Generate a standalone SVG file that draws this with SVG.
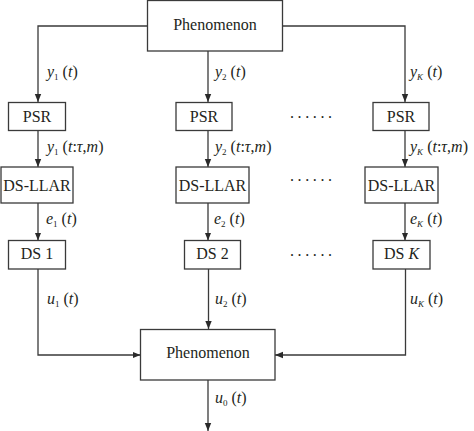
<svg xmlns="http://www.w3.org/2000/svg" width="474" height="431" viewBox="0 0 474 431">
<style>
.box{fill:#fff;stroke:#3a3a3a;stroke-width:1.3}
.bt{font-family:'Liberation Serif','DejaVu Serif',serif;font-size:16px;fill:#231f20;text-anchor:middle}
.lbl{font-family:'Liberation Serif','DejaVu Serif',serif;font-size:16px;fill:#231f20}
.i{font-style:italic}
.sub{font-size:9px}
.ln{fill:none;stroke:#3a3a3a;stroke-width:1.3}
.dots{font-family:'Liberation Serif','DejaVu Serif',serif;font-size:16px;fill:#231f20;letter-spacing:3.6px}
</style>
<defs>
<marker id="arr" markerUnits="userSpaceOnUse" markerWidth="10" markerHeight="8" refX="8" refY="4" orient="auto">
<path d="M0,0.8 L8,4 L0,7.2 Z" fill="#2a2a2a"/>
</marker>
</defs>
<rect width="474" height="431" fill="#fff"/>

<g id="connectors">
<path class="ln" d="M147.5,26 H38 V102" marker-end="url(#arr)"/>
<path class="ln" d="M208,51 V102" marker-end="url(#arr)"/>
<path class="ln" d="M282.5,26 H405 V102" marker-end="url(#arr)"/>
<path class="ln" d="M38,130.5 V167" marker-end="url(#arr)"/>
<path class="ln" d="M208,130.5 V167" marker-end="url(#arr)"/>
<path class="ln" d="M405,130.5 V167" marker-end="url(#arr)"/>
<path class="ln" d="M38,203 V240.5" marker-end="url(#arr)"/>
<path class="ln" d="M208,203 V240.5" marker-end="url(#arr)"/>
<path class="ln" d="M405,203 V240.5" marker-end="url(#arr)"/>
<path class="ln" d="M38,269 V355 H140.5" marker-end="url(#arr)"/>
<path class="ln" d="M208.5,269 V329" marker-end="url(#arr)"/>
<path class="ln" d="M405.5,269 V355 H275" marker-end="url(#arr)"/>
<path class="ln" d="M208,380 V431" marker-end="url(#arr)"/>
</g>

<g id="labels">
<text class="lbl" x="47" y="77"><tspan class="i">y</tspan><tspan class="sub" dy="3">1</tspan><tspan dy="-3"> (</tspan><tspan class="i">t</tspan>)</text>
<text class="lbl" x="215" y="77"><tspan class="i">y</tspan><tspan class="sub" dy="3">2</tspan><tspan dy="-3"> (</tspan><tspan class="i">t</tspan>)</text>
<text class="lbl" x="410" y="77"><tspan class="i">y</tspan><tspan class="sub i" dy="3">K</tspan><tspan dy="-3"> (</tspan><tspan class="i">t</tspan>)</text>

<text class="lbl" x="47" y="152"><tspan class="i">y</tspan><tspan class="sub" dy="3">1</tspan><tspan dy="-3"> (</tspan><tspan class="i">t</tspan>:<tspan class="i">τ</tspan>,<tspan class="i">m</tspan>)</text>
<text class="lbl" x="215" y="152"><tspan class="i">y</tspan><tspan class="sub" dy="3">2</tspan><tspan dy="-3"> (</tspan><tspan class="i">t</tspan>:<tspan class="i">τ</tspan>,<tspan class="i">m</tspan>)</text>
<text class="lbl" x="410" y="152"><tspan class="i">y</tspan><tspan class="sub i" dy="3">K</tspan><tspan dy="-3"> (</tspan><tspan class="i">t</tspan>:<tspan class="i">τ</tspan>,<tspan class="i">m</tspan>)</text>

<text class="lbl" x="46" y="224"><tspan class="i">e</tspan><tspan class="sub" dy="3">1</tspan><tspan dy="-3"> (</tspan><tspan class="i">t</tspan>)</text>
<text class="lbl" x="214" y="224"><tspan class="i">e</tspan><tspan class="sub" dy="3">2</tspan><tspan dy="-3"> (</tspan><tspan class="i">t</tspan>)</text>
<text class="lbl" x="410" y="224"><tspan class="i">e</tspan><tspan class="sub i" dy="3">K</tspan><tspan dy="-3"> (</tspan><tspan class="i">t</tspan>)</text>

<text class="lbl" x="47" y="304"><tspan class="i">u</tspan><tspan class="sub" dy="3">1</tspan><tspan dy="-3"> (</tspan><tspan class="i">t</tspan>)</text>
<text class="lbl" x="215" y="304"><tspan class="i">u</tspan><tspan class="sub" dy="3">2</tspan><tspan dy="-3"> (</tspan><tspan class="i">t</tspan>)</text>
<text class="lbl" x="410" y="304"><tspan class="i">u</tspan><tspan class="sub i" dy="3">K</tspan><tspan dy="-3"> (</tspan><tspan class="i">t</tspan>)</text>

<text class="lbl" x="215" y="403"><tspan class="i">u</tspan><tspan class="sub" dy="3">0</tspan><tspan dy="-3"> (</tspan><tspan class="i">t</tspan>)</text>

<text class="dots" x="290" y="118">......</text>
<text class="dots" x="290" y="181">......</text>
<text class="dots" x="290" y="256">......</text>
</g>

<g id="phenomenon-top"><rect class="box" x="147.5" y="0.5" width="135" height="50.5"/><text class="bt" x="215" y="30">Phenomenon</text></g>

<g id="psr-1"><rect class="box" x="8.5" y="102.5" width="57" height="28"/><text class="bt" x="37" y="121.5">PSR</text></g>
<g id="psr-2"><rect class="box" x="176" y="102.5" width="56" height="28"/><text class="bt" x="204" y="121.5">PSR</text></g>
<g id="psr-k"><rect class="box" x="373" y="102.5" width="56" height="28"/><text class="bt" x="401" y="121.5">PSR</text></g>

<g id="dsllar-1"><rect class="box" x="1" y="167" width="72" height="36"/><text class="bt" x="37" y="190.5">DS-LLAR</text></g>
<g id="dsllar-2"><rect class="box" x="176" y="167" width="73" height="36"/><text class="bt" x="212.5" y="190.5">DS-LLAR</text></g>
<g id="dsllar-k"><rect class="box" x="365" y="167" width="73" height="36"/><text class="bt" x="401.5" y="190.5">DS-LLAR</text></g>

<g id="ds-1"><rect class="box" x="8.5" y="240.5" width="57" height="28.5"/><text class="bt" x="37" y="259">DS 1</text></g>
<g id="ds-2"><rect class="box" x="184.5" y="240.5" width="56" height="28.5"/><text class="bt" x="212.5" y="259">DS 2</text></g>
<g id="ds-k"><rect class="box" x="373" y="240.5" width="57" height="28.5"/><text class="bt" x="401.5" y="259">DS <tspan class="i">K</tspan></text></g>

<g id="phenomenon-bottom"><rect class="box" x="140.5" y="329.5" width="134.5" height="50.5"/><text class="bt" x="208" y="357.5">Phenomenon</text></g>
</svg>
